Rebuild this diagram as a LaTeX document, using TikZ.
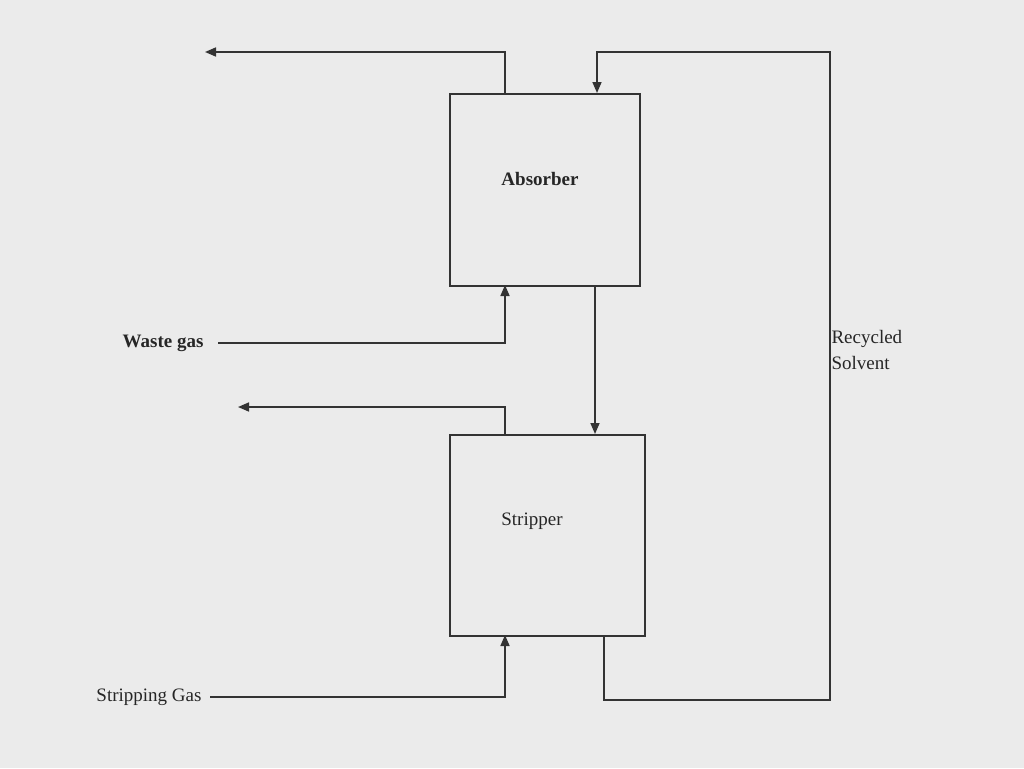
\documentclass[tikz,border=0pt]{standalone}
\usepackage{fontspec}
\setmainfont{Liberation Serif}
\usetikzlibrary{arrows.meta}
\begin{document}
\begin{tikzpicture}[x=1pt,y=-1pt,
  unit/.style={draw=black!80,line width=1.6pt,fill=none},
  flow/.style={draw=black!80,line width=1.6pt},
  arr/.style={flow,-{Triangle[length=11pt,width=9pt]}},
  lbl/.style={font=\fontsize{19}{26}\selectfont,text=black!85},
  blbl/.style={font=\bfseries\fontsize{19}{26}\selectfont,text=black!85}]
\fill[black!8] (0,0) rectangle (1024,768);
\useasboundingbox (0,0) rectangle (1024,768);
\node[unit,minimum width=190pt,minimum height=192pt,anchor=north west] (abs) at (449,93) {};
\node[blbl] (absl) at (540,179) {Absorber};
\node[unit,minimum width=195pt,minimum height=201pt,anchor=north west] (str) at (449,434) {};
\node[lbl] (strl) at (532,521) {Stripper};
\node[blbl,anchor=east] (wg) at (207,343) {Waste gas};
\node[lbl,anchor=east] (sg) at (205,697) {Stripping Gas};
\node[lbl,align=left,anchor=north west] (rs) at (828,327) {Recycled\\Solvent};
\coordinate (o1) at (205,52);
\coordinate (o2) at (238,407);
\draw[arr] (505,93) |- (o1);
\draw[arr] (505,434) |- (o2);
\draw[arr] (218,343) -| (505,285);
\draw[arr] (210,697) -| (505,635);
\draw[arr] (595,285) -- (595,434);
\draw[arr] (604,635) |- (830,700) |- (597,52) -- (597,93);
\end{tikzpicture}
\end{document}
